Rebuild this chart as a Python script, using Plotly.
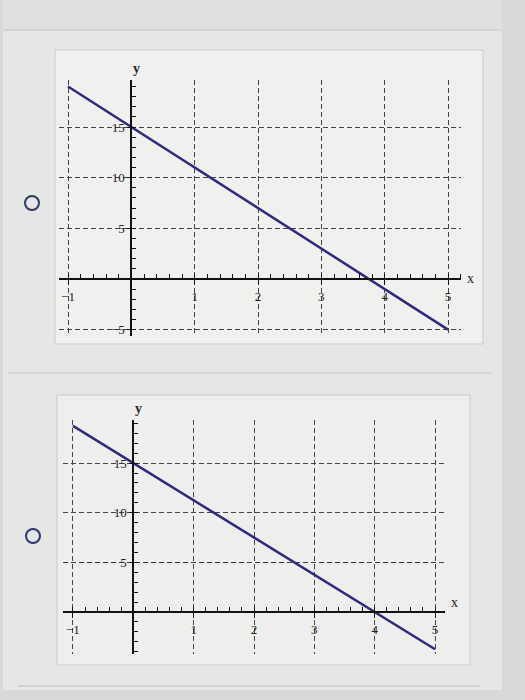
import plotly.graph_objects as go

W, H = 525, 700

# two answer choices: a straight line through the y-intercept 15
top_x = [-1, 5]
top_y = [19, -5]
bottom_x = [-1, 5]
bottom_y = [18.75, -3.75]

x_ticks = [-1, 1, 2, 3, 4, 5]
x_ticktext = ['\u22121', '1', '2', '3', '4', '5']
top_yticks = [-5, 5, 10, 15]
top_yticktext = ['\u22125', '5', '10', '15']
bottom_yticks = [5, 10, 15]
bottom_yticktext = ['5', '10', '15']

LINE = '#2e2b7e'
INK = '#262626'
SERIF = 'Liberation Serif, DejaVu Serif, serif'


def px(x):
    return x / W


def py(y):
    return 1 - y / H


def at(domain, rng, v):
    return domain[0] + (v - rng[0]) / (rng[1] - rng[0]) * (domain[1] - domain[0])


# pixel boxes of the two plots (left, right, bottom, top)
panels = [
    dict(xdom=[px(58.5), px(460.7)], ydom=[py(335.7), py(80.4)],
         xr=[-1.15, 5.2], yr=[-5.6, 19.6], xs=top_x, ys=top_y,
         yt=top_yticks, ytt=top_yticktext),
    dict(xdom=[px(62.7), px(445.3)], ydom=[py(653.7), py(420.4)],
         xr=[-1.17, 5.17], yr=[-4.2, 19.3], xs=bottom_x, ys=bottom_y,
         yt=bottom_yticks, ytt=bottom_yticktext),
]

fig = go.Figure()
layout = dict(
    width=W, height=H,
    margin=dict(l=0, r=0, t=0, b=0),
    paper_bgcolor='#d9d9d7',
    plot_bgcolor='rgba(0,0,0,0)',
    showlegend=False,
    annotations=[],
)


def name(kind, n):
    return kind if n == 1 else '%s%d' % (kind, n)


for i, p in enumerate(panels):
    g = 2 * i + 1   # subplot holding the grid and the line
    a = 2 * i + 2   # subplot holding the axes through the origin

    fig.add_trace(go.Scatter(x=p['xs'], y=p['ys'], mode='lines',
                             line=dict(color=LINE, width=2.5),
                             xaxis=name('x', g), yaxis=name('y', g), hoverinfo='skip'))
    fig.add_trace(go.Scatter(x=p['xs'], y=p['ys'], mode='lines',
                             line=dict(width=0), opacity=0,
                             xaxis=name('x', a), yaxis=name('y', a), hoverinfo='skip'))

    grid = dict(showgrid=True, gridcolor='#444', griddash='5px,3px', gridwidth=1,
                zeroline=False, showline=False, showticklabels=False, ticks='',
                fixedrange=True)
    layout[name('xaxis', g)] = dict(
        grid, domain=p['xdom'], range=p['xr'], anchor=name('y', g),
        tickmode='array', tickvals=[-1, 1, 2, 3, 4, 5])
    layout[name('yaxis', g)] = dict(
        grid, domain=p['ydom'], range=p['yr'], anchor=name('x', g),
        tickmode='array', tickvals=p['yt'])

    # axes drawn through the origin
    layout[name('xaxis', a)] = dict(
        domain=p['xdom'], anchor='free', side='bottom',
        position=at(p['ydom'], p['yr'], 0), range=p['xr'],
        showgrid=False, zeroline=False, showline=True, linecolor='#111', linewidth=2,
        tickmode='array', tickvals=x_ticks, ticktext=x_ticktext,
        ticks='outside', ticklen=5, tickcolor='#111',
        minor=dict(tickmode='linear', tick0=0, dtick=0.2, ticks='inside',
                   ticklen=4, tickcolor='#111', showgrid=False),
        tickfont=dict(family=SERIF, size=13, color=INK), fixedrange=True)
    layout[name('yaxis', a)] = dict(
        domain=p['ydom'], anchor='free', side='left',
        position=at(p['xdom'], p['xr'], 0), range=p['yr'],
        showgrid=False, zeroline=False, showline=True, linecolor='#111', linewidth=2,
        tickmode='array', tickvals=p['yt'], ticktext=p['ytt'],
        ticks='outside', ticklen=3, tickcolor='#111',
        minor=dict(tickmode='linear', tick0=0, dtick=1, ticks='inside',
                   ticklen=4, tickcolor='#111', showgrid=False),
        tickfont=dict(family=SERIF, size=13, color=INK), fixedrange=True)

    layout['annotations'] += [
        dict(text='<b>y</b>', x=at(p['xdom'], p['xr'], 0), y=p['ydom'][1],
             xref='paper', yref='paper', yanchor='bottom', yshift=2,
             showarrow=False, font=dict(family=SERIF, size=14, color=INK)),
        dict(text='x', x=p['xdom'][1], y=at(p['ydom'], p['yr'], 0),
             xref='paper', yref='paper', xanchor='left', xshift=4,
             showarrow=False, font=dict(family=SERIF, size=14, color=INK)),
    ]

# page decoration: answer rows, plot frames and radio buttons
layout['shapes'] = [
    dict(type='rect', xref='paper', yref='paper', x0=px(3), x1=px(502), y0=py(690), y1=py(30),
         fillcolor='#e6e6e4', line=dict(width=0), layer='below'),
    dict(type='rect', xref='paper', yref='paper', x0=px(3), x1=px(502), y0=py(30), y1=py(0),
         fillcolor='#e0e0de', line=dict(width=0), layer='below'),
    dict(type='line', xref='paper', yref='paper', x0=px(3), x1=px(502), y0=py(30), y1=py(30),
         line=dict(color='#c4c4c2', width=1), layer='below'),
    dict(type='line', xref='paper', yref='paper', x0=px(8), x1=px(492), y0=py(373), y1=py(373),
         line=dict(color='#c4c4c2', width=1), layer='below'),
    dict(type='line', xref='paper', yref='paper', x0=px(18), x1=px(480), y0=py(686), y1=py(686),
         line=dict(color='#bdbdbb', width=1), layer='below'),
    dict(type='rect', xref='paper', yref='paper', x0=px(55), x1=px(483), y0=py(344), y1=py(50),
         fillcolor='#f0f0ee', line=dict(color='#cacac8', width=1), layer='below'),
    dict(type='rect', xref='paper', yref='paper', x0=px(57), x1=px(470), y0=py(665), y1=py(395),
         fillcolor='#eeeeec', line=dict(color='#cacac8', width=1), layer='below'),
    dict(type='circle', xref='paper', yref='paper', x0=px(25), x1=px(39), y0=py(210), y1=py(196),
         line=dict(color='#2b3a6b', width=2)),
    dict(type='circle', xref='paper', yref='paper', x0=px(26), x1=px(40), y0=py(543), y1=py(529),
         line=dict(color='#2b3a6b', width=2)),
]

fig.update_layout(**layout)
fig.write_html("out.html", config={'displayModeBar': False},
               post_script="document.body.style.margin='0';")
